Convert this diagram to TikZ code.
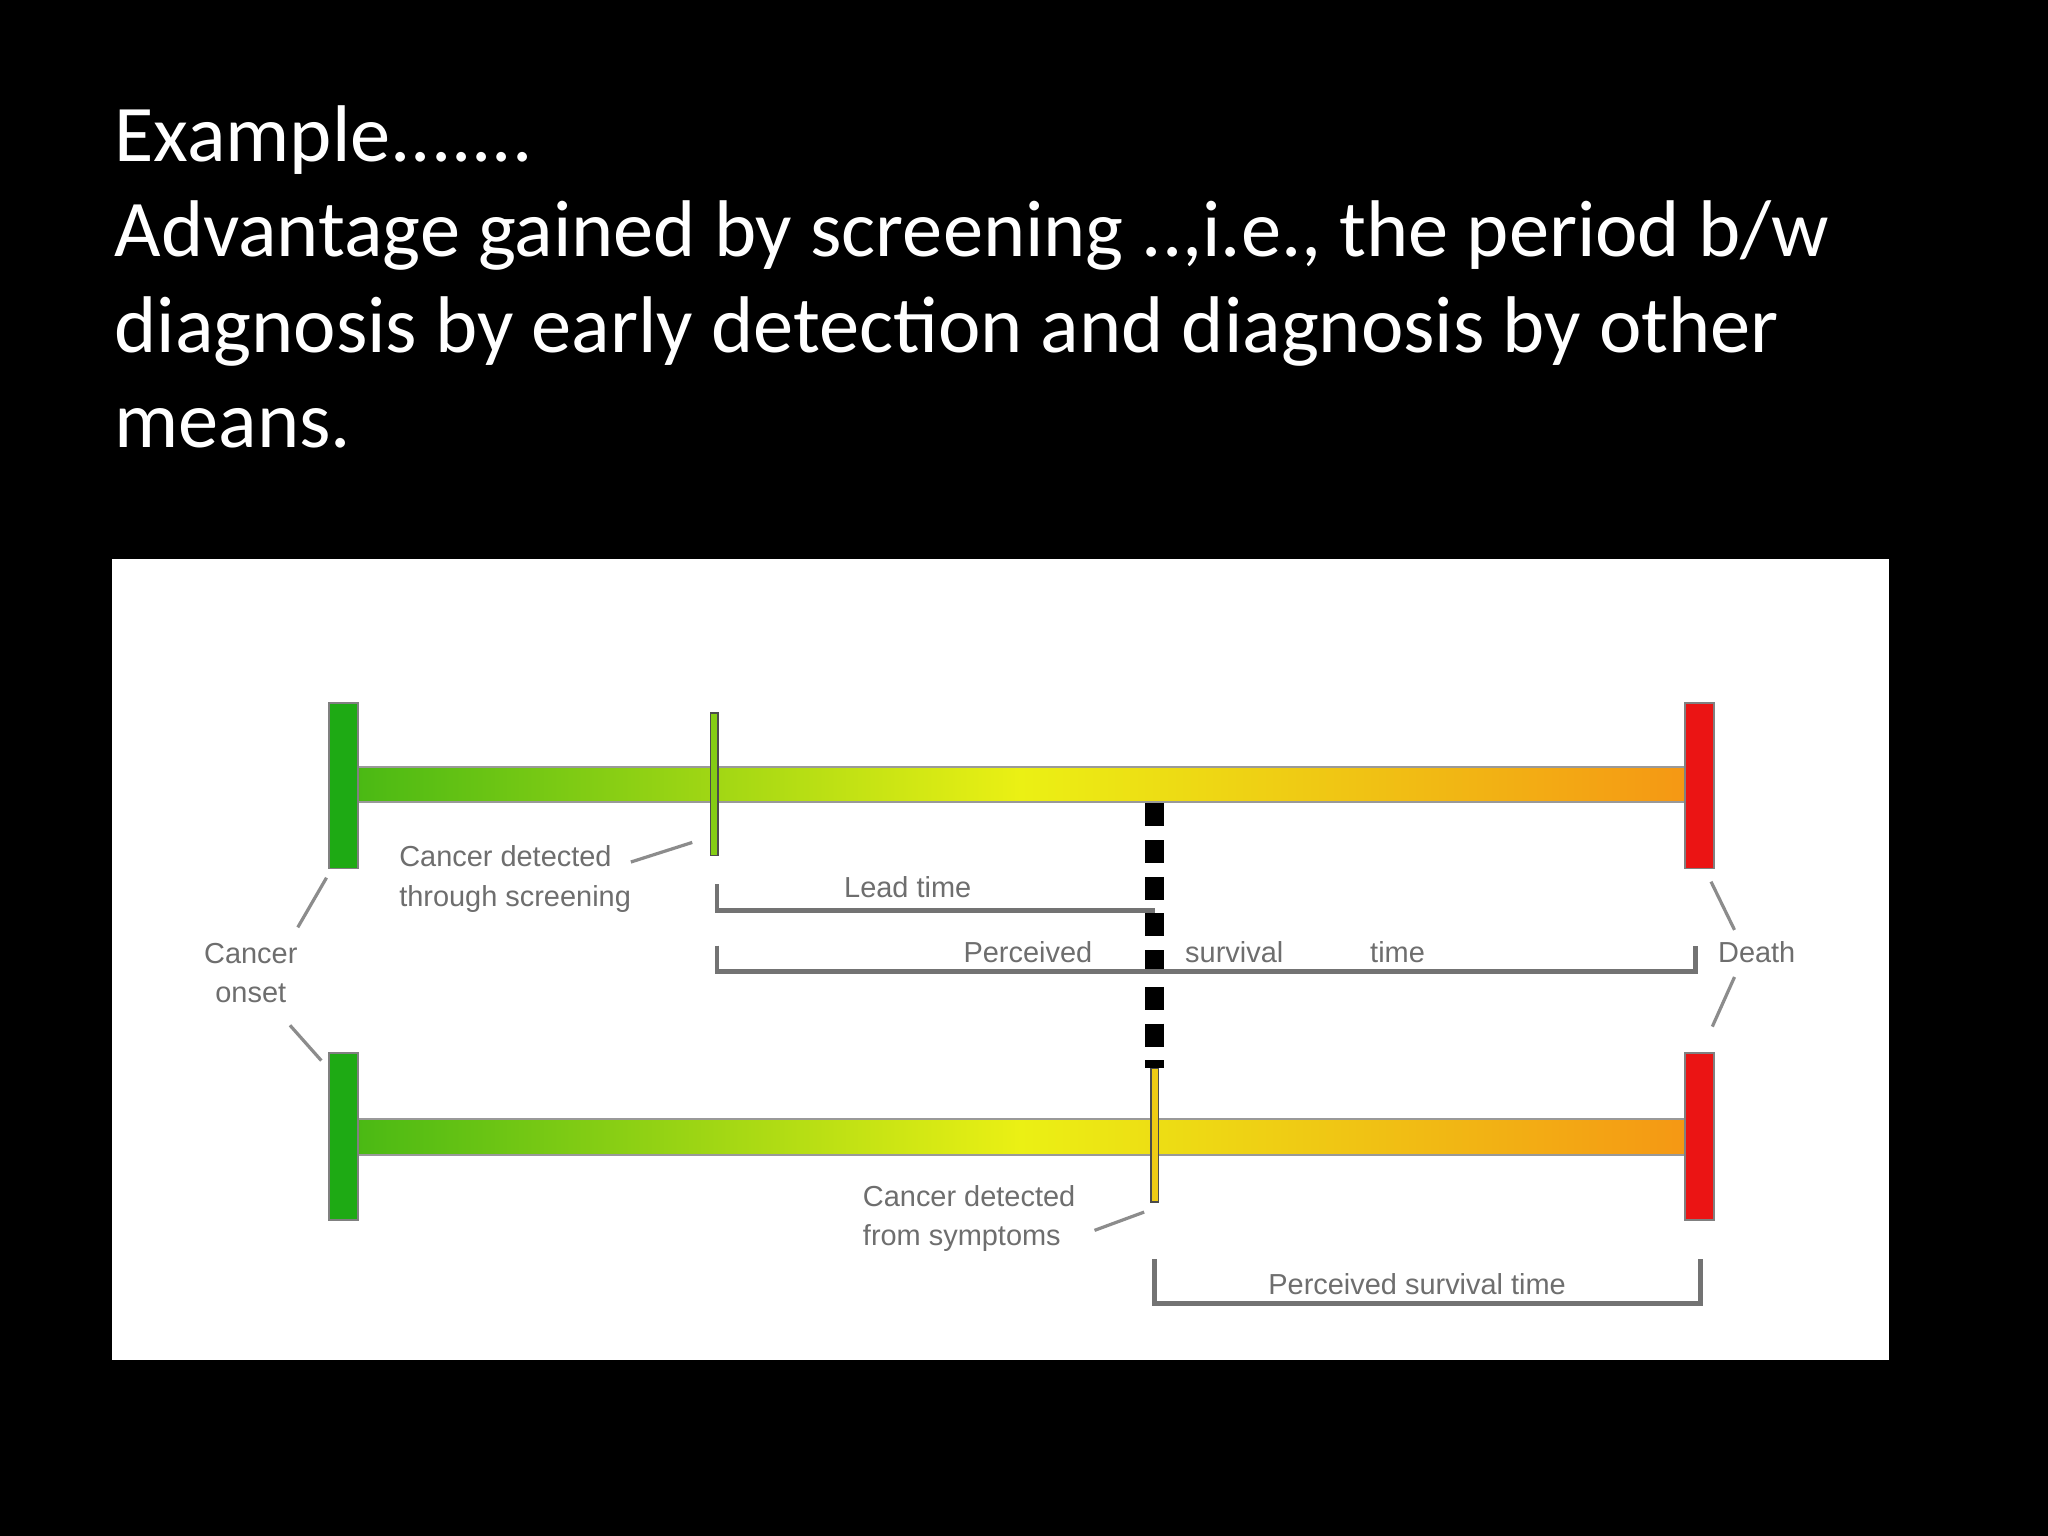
\documentclass[tikz,border=0pt]{standalone}
\usepackage{fontspec}
\setmainfont{Carlito}
\newfontfamily\labelfont{Liberation Sans}
\usetikzlibrary{positioning}
\definecolor{barGreen}{RGB}{30,170,20}
\definecolor{barYellow}{RGB}{235,240,20}
\definecolor{barOrange}{RGB}{245,150,20}
\definecolor{barRed}{RGB}{235,20,20}
\definecolor{labelGray}{RGB}{110,110,110}
\pgfdeclarehorizontalshading{timeline}{100bp}{%
  color(0bp)=(barGreen); color(25bp)=(barGreen!80!barYellow);
  color(50bp)=(barYellow); color(75bp)=(barOrange); color(100bp)=(barRed)}
\begin{document}
\begin{tikzpicture}[
    x=.01cm,
    y=-.01cm,
    bar/.style={
      shading=timeline,
      draw=black!40,
      line width=.4pt,
    },
    endcap/.style={
      draw=black!50,
      line width=.4pt,
    },
    bracket/.style={
      line width=1pt,
      color=black!55,
    },
    leader/.style={
      line width=.7pt,
      color=black!45,
    },
    lbl/.style={
      inner sep=0,
      align=center,
      font=\labelfont\fontsize{6.3}{8.6}\selectfont,
      text=labelGray,
    },
    title/.style={
      inner sep=0,
      anchor=north west,
      align=left,
      text=white,
      font=\fontsize{17.5}{20.8}\selectfont,
    },
  ]
    \fill[black] (0,0) rectangle (1568,1176);
    \fill[white] (86,428) rectangle (1446,1041);

    \node[title] (head) at (87,80)
    {Example.......\\
     Advantage gained by screening ..,i.e., the period b/w\\
     diagnosis by early detection and diagnosis by other\\
     means.};

    % bars
    \shade[bar] (263,587) rectangle (1300,614);
    \shade[bar] (263,857) rectangle (1300,884);
    \fill[barGreen,endcap] (252,538) rectangle (274,665);
    \fill[barRed,endcap] (1290,538) rectangle (1312,665);
    \fill[barGreen,endcap] (252,806) rectangle (274,934);
    \fill[barRed,endcap] (1290,806) rectangle (1312,934);

    % detection ticks
    \fill[barGreen!50!barYellow,draw=black!70] (544,546) rectangle (550,655);
    \fill[barYellow!60!barOrange,draw=black!70] (881,818) rectangle (887,920);
    \draw[line width=4pt,dash pattern=on 5pt off 3pt] (884,615) -- (884,818);

    % labels
    \node[lbl,align=left,anchor=west] (screen) at (305,673)
      {Cancer detected\\through screening};
    \node[lbl] (onset) at (192,745) {Cancer\\onset};
    \node[lbl] (death) at (1345,729) {Death};
    \node[lbl,align=left,anchor=west] (symptom) at (660,933)
      {Cancer detected\\from symptoms};

    \coordinate (scrtip) at (530,645);
    \coordinate (symtip) at (876,928);
    \draw[leader] (483,660) -- (scrtip);
    \draw[leader] (838,942) -- (symtip);
    \draw[leader] (228,710) -- (250,672);
    \draw[leader] (222,785) -- (246,812);
    \draw[leader] (1310,675) -- (1328,712);
    \draw[leader] (1328,748) -- (1311,786);

    % brackets
    \draw[bracket] (549,677) -- (549,697) -- (884,697);
    \node[lbl,above=2pt] (lead) at (695,695) {Lead time};
    \draw[bracket] (549,724) -- (549,744) -- (1298,744) -- (1298,724);
    \node[lbl] (perc) at (787,729) {Perceived};
    \node[lbl] (surv) at (945,729) {survival};
    \node[lbl] (tim) at (1070,729) {time};
    \draw[bracket] (884,964) -- (884,998) -- (1302,998) -- (1302,964);
    \node[lbl] (perc2) at (1085,983) {Perceived survival time};
  \end{tikzpicture}
\end{document}
